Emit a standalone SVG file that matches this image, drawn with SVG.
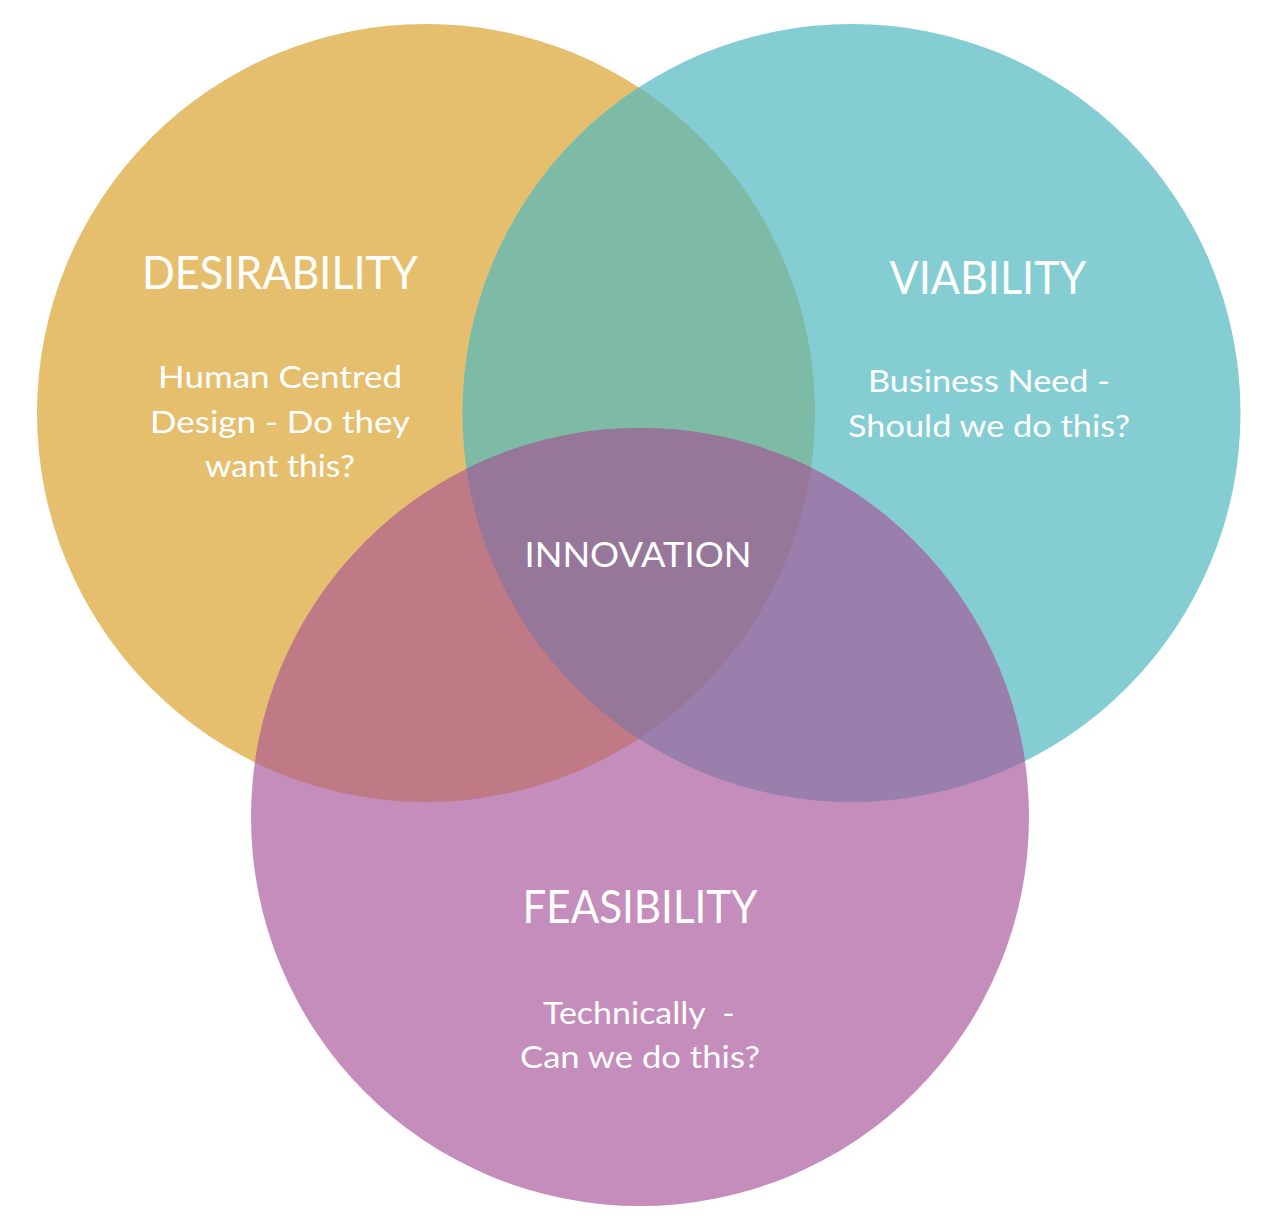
<svg xmlns="http://www.w3.org/2000/svg" width="1272" height="1230" viewBox="0 0 1272 1230">
<style>
.t{font-family:Lato,"Open Sans","Liberation Sans",sans-serif;fill:#fff;text-anchor:middle}
.h{font-size:46px}
.b{font-size:31px}
.c{font-size:34px}
</style>
<defs>
<clipPath id="cA"><circle cx="426" cy="413" r="389"/></clipPath>
<clipPath id="cB"><circle cx="851.5" cy="413" r="389"/></clipPath>
<clipPath id="cC"><circle cx="640" cy="817" r="389"/></clipPath>
</defs>
<rect width="1272" height="1230" fill="#fff"/>
<g id="desirability">
<circle cx="426" cy="413" r="389" fill="#E6BF6E"/>
</g>
<g id="viability">
<circle cx="851.5" cy="413" r="389" fill="#84CED3"/>
</g>
<g id="feasibility">
<circle cx="640" cy="817" r="389" fill="#C48DBC"/>
</g>
<g id="overlaps">
<g clip-path="url(#cA)"><circle cx="851.5" cy="413" r="389" fill="#7EBBA7"/></g>
<g clip-path="url(#cA)"><circle cx="640" cy="817" r="389" fill="#BF7A86"/></g>
<g clip-path="url(#cB)"><circle cx="640" cy="817" r="389" fill="#9A7FAC"/></g>
<g clip-path="url(#cA)"><g clip-path="url(#cB)"><circle cx="640" cy="817" r="389" fill="#967799"/></g></g>
</g>
<g id="labels">
<text class="t h" x="280" y="289" textLength="276" lengthAdjust="spacingAndGlyphs">DESIRABILITY</text>
<text class="t b" x="280" y="388" textLength="244" lengthAdjust="spacingAndGlyphs">Human Centred</text>
<text class="t b" x="280" y="433" textLength="260" lengthAdjust="spacingAndGlyphs">Design - Do they</text>
<text class="t b" x="280" y="477" textLength="150" lengthAdjust="spacingAndGlyphs">want this?</text>
<text class="t h" x="988" y="294" textLength="197" lengthAdjust="spacingAndGlyphs">VIABILITY</text>
<text class="t b" x="989" y="392" textLength="242" lengthAdjust="spacingAndGlyphs">Business Need -</text>
<text class="t b" x="989" y="437" textLength="282" lengthAdjust="spacingAndGlyphs">Should we do this?</text>
<text class="t c" x="638" y="567" textLength="227" lengthAdjust="spacingAndGlyphs">INNOVATION</text>
<text class="t h" x="640" y="923" textLength="235" lengthAdjust="spacingAndGlyphs">FEASIBILITY</text>
<text class="t b" x="639" y="1024" textLength="192" lengthAdjust="spacingAndGlyphs" xml:space="preserve">Technically  -</text>
<text class="t b" x="640" y="1068" textLength="240" lengthAdjust="spacingAndGlyphs">Can we do this?</text>
</g>
</svg>
